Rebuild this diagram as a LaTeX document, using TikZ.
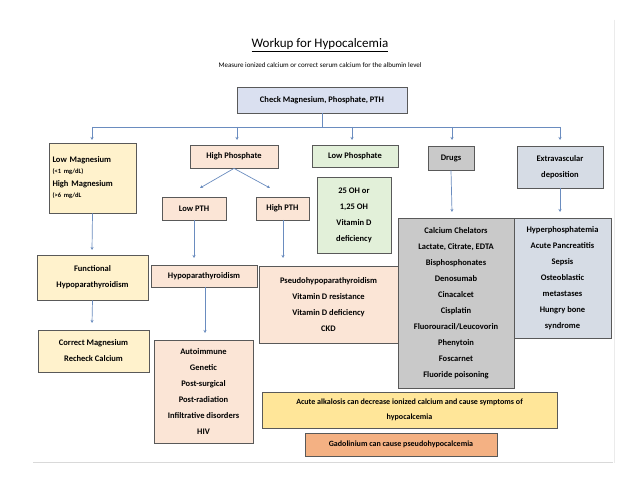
\documentclass[tikz,border=0pt]{standalone}
\usepackage{fontspec}
\setmainfont{Carlito}
\usetikzlibrary{arrows.meta}
\definecolor{cblue}{HTML}{DAE0F0}
\definecolor{cyel}{HTML}{FFF2CC}
\definecolor{cpeach}{HTML}{FBE5D6}
\definecolor{cgreen}{HTML}{E2F0D9}
\definecolor{cgray}{HTML}{C9C9C9}
\definecolor{cbg}{HTML}{D6DCE5}
\definecolor{calk}{HTML}{FFE699}
\definecolor{cgad}{HTML}{F4B183}
\definecolor{cline}{HTML}{6A8CBF}
\begin{document}
\begin{tikzpicture}[x=1pt,y=-1pt,
 box/.style={draw=black!65,line width=0.8pt,align=center,inner sep=0pt,font=\bfseries\fontsize{8.5}{16}\selectfont},
 arr/.style={draw=cline,line width=0.7pt,-{Stealth[length=3pt,width=3pt]}}]
\useasboundingbox[fill=white] (0,0) rectangle (638,478);
\node[font=\fontsize{13}{15}\selectfont] (title) at (320,45) {\underline{Workup for Hypocalcemia}};
\node[font=\fontsize{7}{8}\selectfont] (sub) at (320,65) {Measure ionized calcium or correct serum calcium for the albumin level};
\node[box,fill=cblue,minimum width=170pt,minimum height=26pt] (check) at (322,100) {Check Magnesium, Phosphate, PTH};
\node[box,fill=cyel,minimum width=87pt,minimum height=70pt,align=left,text width=80pt] (lowmag) at (92.5,178) {Low Magnesium\\[-5pt]{\fontsize{6.5}{9}\selectfont(<1 mg/dL)}\\[-3pt]High Magnesium\\[-5pt]{\fontsize{6.5}{9}\selectfont(>6 mg/dL}};
\node[box,fill=cpeach,minimum width=88pt,minimum height=23pt] (highp) at (234,156.5) {High Phosphate};
\node[box,fill=cgreen,minimum width=86pt,minimum height=22pt] (lowp) at (355,156) {Low Phosphate};
\node[box,fill=cgray,minimum width=46pt,minimum height=24pt] (drugs) at (451,158) {Drugs};
\node[box,fill=cbg,minimum width=86pt,minimum height=42pt] (extra) at (560,167) {Extravascular\\deposition};
\node[box,fill=cpeach,minimum width=64pt,minimum height=23pt] (lowpth) at (194,208.5) {Low PTH};
\node[box,fill=cpeach,minimum width=53pt,minimum height=23pt] (highpth) at (282.5,208.5) {High PTH};
\node[box,fill=cgreen,minimum width=74pt,minimum height=76pt] (vitd) at (354,215) {25 OH or\\1,25 OH\\Vitamin D\\deficiency};
\node[box,fill=cyel,minimum width=111pt,minimum height=45pt] (func) at (92.5,277.5) {Functional\\Hypoparathyroidism};
\node[box,fill=cpeach,minimum width=106pt,minimum height=22pt] (hypo) at (204,276) {Hypoparathyroidism};
\node[box,fill=cpeach,minimum width=139pt,minimum height=77pt] (pseudo) at (328.5,304.5) {Pseudohypoparathyroidism\\Vitamin D resistance\\Vitamin D deficiency\\CKD};
\node[box,fill=cgray,minimum width=116pt,minimum height=170pt] (chel) at (456,303) {Calcium Chelators\\Lactate, Citrate, EDTA\\Bisphosphonates\\Denosumab\\Cinacalcet\\Cisplatin\\Fluorouracil/Leucovorin\\Phenytoin\\Foscarnet\\Fluoride poisoning};
\node[box,fill=cbg,minimum width=97pt,minimum height=120pt] (hyper) at (562.5,278) {Hyperphosphatemia\\Acute Pancreatitis\\Sepsis\\Osteoblastic\\metastases\\Hungry bone\\syndrome};
\node[box,fill=cyel,minimum width=111pt,minimum height=42pt] (correct) at (93.5,351) {Correct Magnesium\\Recheck Calcium};
\node[box,fill=cpeach,minimum width=99pt,minimum height=103pt] (auto) at (203.5,391.5) {Autoimmune\\Genetic\\Post-surgical\\Post-radiation\\Infiltrative disorders\\HIV};
\node[box,fill=calk,minimum width=295pt,minimum height=36pt,font=\bfseries\fontsize{8}{15}\selectfont] (alk) at (409.5,410) {Acute alkalosis can decrease ionized calcium and cause symptoms of\\hypocalcemia};
\node[box,fill=cgad,minimum width=192pt,minimum height=23pt,font=\bfseries\fontsize{8}{15}\selectfont] (gad) at (401,444.5) {Gadolinium can cause pseudohypocalcemia};
% connectors
\coordinate (j) at (322,127);
\coordinate (l1) at (92,127); \coordinate (l5) at (560,127);
\draw[draw=cline,line width=0.7pt] (check.south) -- (j) (l1) -- (l5);
\draw[arr] (l1) -- (92,140);
\draw[arr] (237,127) -- (237,140);
\draw[arr] (352,127) -- (352,140);
\draw[arr] (452,127) -- (452,140);
\draw[arr] (l5) -- (560,140);
\draw[arr] (highp.south) -- (200,188);
\draw[arr] (highp.south) -- (270,188);
\draw[arr] (lowmag.south) -- (92,250);
\draw[arr] (func.south) -- (92,323);
\draw[arr] (194,220) -- (194,258);
\draw[arr] (283,220) -- (283,258);
\draw[arr] (205,287) -- (205,333);
\draw[arr] (drugs.south) -- (452,212);
\draw[arr] (extra.south) -- (560,212);
\draw[black!15,line width=1pt] (33,463) -- (613,463);
\draw[black!8,line width=1pt] (614,20) -- (614,463);
\end{tikzpicture}
\end{document}
